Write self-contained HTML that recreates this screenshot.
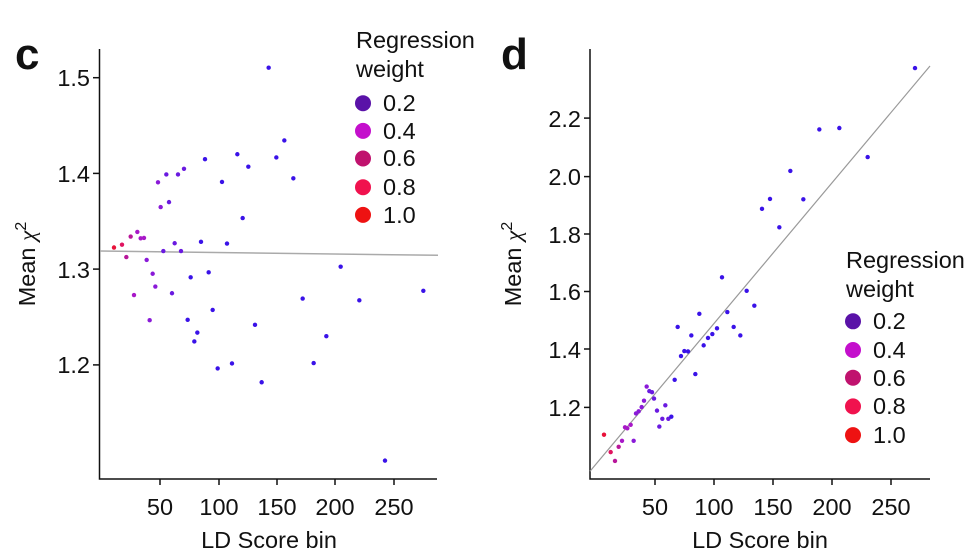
<!DOCTYPE html><html><head><meta charset="utf-8"><style>
body{margin:0;background:#fff}svg{display:block;font-family:"Liberation Sans",sans-serif}
</style></head><body>
<svg id="s" width="980" height="556" viewBox="0 0 980 556" xmlns="http://www.w3.org/2000/svg">
<rect width="980" height="556" fill="#fff"/>
<g fill="#111" font-size="23.5">
<text x="15" y="69" font-size="44" font-weight="bold">c</text>
<text x="501" y="69" font-size="44" font-weight="bold">d</text>
<path d="M99.5 49V479H437" stroke="#111" stroke-width="1.5" fill="none"/>
<g stroke="#111" stroke-width="1.5"><line x1="93" y1="77.7" x2="99" y2="77.7"/><line x1="93" y1="173.4" x2="99" y2="173.4"/><line x1="93" y1="269.1" x2="99" y2="269.1"/><line x1="93" y1="364.9" x2="99" y2="364.9"/>
<line x1="160" y1="479" x2="160" y2="485"/><line x1="219" y1="479" x2="219" y2="485"/><line x1="277" y1="479" x2="277" y2="485"/><line x1="335" y1="479" x2="335" y2="485"/><line x1="394" y1="479" x2="394" y2="485"/></g>
<g text-anchor="end"><text x="90" y="86">1.5</text><text x="90" y="182">1.4</text><text x="90" y="278">1.3</text><text x="90" y="373">1.2</text></g>
<g text-anchor="middle"><text x="160" y="515">50</text><text x="219" y="515">100</text><text x="277" y="515">150</text><text x="335" y="515">200</text><text x="394" y="515">250</text>
<text x="269" y="548">LD Score bin</text></g>
<text transform="translate(35,264) rotate(-90)" text-anchor="middle">Mean <tspan font-family="Liberation Serif" font-style="italic">χ</tspan><tspan font-size="16" dy="-9">2</tspan></text>
<line x1="100" y1="251" x2="438" y2="255.3" stroke="#aaa" stroke-width="1.5"/>
<path d="M590 49V479H930" stroke="#111" stroke-width="1.5" fill="none"/>
<g stroke="#111" stroke-width="1.5"><line x1="584" y1="118.1" x2="590" y2="118.1"/><line x1="584" y1="176.6" x2="590" y2="176.6"/><line x1="584" y1="234" x2="590" y2="234"/><line x1="584" y1="291.5" x2="590" y2="291.5"/><line x1="584" y1="349" x2="590" y2="349"/><line x1="584" y1="407.4" x2="590" y2="407.4"/>
<line x1="655" y1="479" x2="655" y2="485"/><line x1="714" y1="479" x2="714" y2="485"/><line x1="773" y1="479" x2="773" y2="485"/><line x1="832" y1="479" x2="832" y2="485"/><line x1="891" y1="479" x2="891" y2="485"/></g>
<g text-anchor="end"><text x="581" y="127">2.2</text><text x="581" y="185">2.0</text><text x="581" y="243">1.8</text><text x="581" y="300">1.6</text><text x="581" y="358">1.4</text><text x="581" y="416">1.2</text></g>
<g text-anchor="middle"><text x="655" y="515">50</text><text x="714" y="515">100</text><text x="773" y="515">150</text><text x="832" y="515">200</text><text x="891" y="515">250</text>
<text x="760" y="548">LD Score bin</text></g>
<text transform="translate(521,264) rotate(-90)" text-anchor="middle">Mean <tspan font-family="Liberation Serif" font-style="italic">χ</tspan><tspan font-size="16" dy="-9">2</tspan></text>
<line x1="590" y1="471.3" x2="930" y2="66" stroke="#999" stroke-width="1.2"/>
<text x="356" y="48">Regression</text><text x="356" y="77">weight</text>
<text x="383" y="111">0.2</text><text x="383" y="139">0.4</text><text x="383" y="166">0.6</text><text x="383" y="195">0.8</text><text x="383" y="223">1.0</text>
<text x="846" y="268">Regression</text><text x="846" y="297">weight</text>
<text x="873" y="329">0.2</text><text x="873" y="358">0.4</text><text x="873" y="386">0.6</text><text x="873" y="414">0.8</text><text x="873" y="443">1.0</text>
</g>
<g id="pts"></g>
</svg>
<script>
var g=document.getElementById('pts'),ns='http://www.w3.org/2000/svg',k=1.0638;
function c(x,y,r,f){var e=document.createElementNS(ns,'circle');e.setAttribute('cx',x);e.setAttribute('cy',y);e.setAttribute('r',r);e.setAttribute('fill',f);g.appendChild(e);}
var lc=['#5a12a8','#c40fcc','#c0126e','#f0124e','#ee1212'];
[103.2,130.9,158.5,187.2,214.9].forEach(function(y,i){c(363,y,8,lc[i]);});
[321.3,350,377.7,406.4,435.1].forEach(function(y,i){c(853,y,8,lc[i]);});
function col(i){return i<1?'#e8123a':i<2?'#e01460':i<4?'#b8169a':i<8?'#a818c8':i<14?'#8a1ad8':i<22?'#6a1ae0':'#3a12e8';}
var L=[[342,698],[366,690],[379,725],[392,667],[402,832],[412,654],[422,672],[432,671],[440,733],[449,903],[458,772],[466,808],[474,514],[482,584],[490,708],[499,492],[507,570],[516,827],[524,686],[534,492],[543,708],[552,476],[563,902],[572,782],[583,963],[592,938],[603,682],[615,449],[626,768],[638,874],[653,1039],[666,513],[681,687],[696,1025],[712,435],[728,615],[745,470],[765,916],[785,1078],[806,191],[829,444],[853,396],[880,503],[908,842],[941,1024],[979,948],[1022,752],[1078,847],[1155,1299],[1270,820]];
L.forEach(function(p,i){c(p[0]/3,p[1]/3*k,2.2,col(i));});
var R=[[342,1226],[362,1275],[375,1300],[386,1260],[396,1243],[405,1205],[412,1208],[422,1198],[431,1243],[438,1166],[446,1160],[455,1148],[462,1130],[470,1090],[478,1103],[486,1106],[492,1124],[501,1158],[508,1203],[517,1181],[526,1143],[535,1181],[544,1175],[554,1071],[563,922],[573,1004],[583,990],[594,991],[604,946],[616,1055],[628,885],[641,974],[654,953],[667,942],[681,926],[696,782],[712,880],[731,922],[751,946],[770,820],[793,862],[816,589],[840,561],[868,641],[901,482],[940,562],[988,365],[1048,361],[1133,443],[1275,192]];
R.forEach(function(p,i){c(490+p[0]/3,p[1]/3*k,2.2,col(i));});
</script>
</body></html>
